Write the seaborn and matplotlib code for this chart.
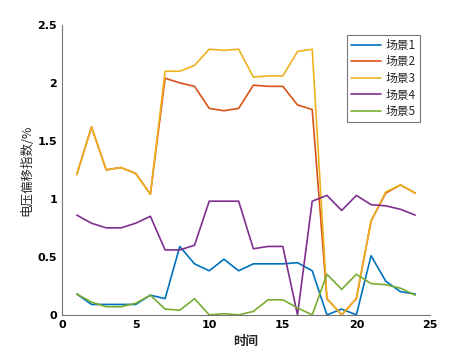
import matplotlib
matplotlib.use("Agg")
import matplotlib.pyplot as plt
import seaborn as sns
import pandas as pd

t = list(range(1, 25))
s1 = [0.18, 0.09, 0.09, 0.09, 0.09, 0.17, 0.14, 0.59, 0.44, 0.38, 0.48, 0.38,
      0.44, 0.44, 0.44, 0.45, 0.38, 0.0, 0.05, 0.0, 0.51, 0.29, 0.2, 0.18]
s2 = [1.21, 1.62, 1.25, 1.27, 1.22, 1.04, 2.04, 2.0, 1.97, 1.78, 1.76, 1.78,
      1.98, 1.97, 1.97, 1.81, 1.77, 0.14, 0.0, 0.14, 0.81, 1.05, 1.12, 1.05]
s3 = [1.21, 1.62, 1.25, 1.27, 1.22, 1.04, 2.1, 2.1, 2.15, 2.29, 2.28, 2.29,
      2.05, 2.06, 2.06, 2.27, 2.29, 0.14, 0.0, 0.14, 0.81, 1.06, 1.12, 1.05]
s4 = [0.86, 0.79, 0.75, 0.75, 0.79, 0.85, 0.56, 0.56, 0.6, 0.98, 0.98, 0.98,
      0.57, 0.59, 0.59, 0.0, 0.98, 1.03, 0.9, 1.03, 0.95, 0.94, 0.91, 0.86]
s5 = [0.18, 0.11, 0.07, 0.07, 0.1, 0.17, 0.05, 0.04, 0.14, 0.0, 0.01, 0.0,
      0.03, 0.13, 0.13, 0.06, 0.0, 0.35, 0.22, 0.35, 0.27, 0.26, 0.23, 0.17]
names = ["场景1", "场景2", "场景3", "场景4", "场景5"]
colors = ["#0072BD", "#D95319", "#EDB120", "#7E2F8E", "#77AC30"]

rows = []
for name, vals in zip(names, [s1, s2, s3, s4, s5]):
    for x, v in zip(t, vals):
        rows.append({"时间": x, "值": v, "场景": name})
df = pd.DataFrame(rows)

sns.set_style("white")
plt.rcParams["font.family"] = ["Noto Sans CJK SC", "DejaVu Sans"]

fig = plt.figure(figsize=(4.74, 3.55), dpi=100)
ax = fig.add_axes([0.131, 0.113, 0.776, 0.817])
sns.lineplot(data=df, x="时间", y="值", hue="场景", hue_order=names,
             palette=colors, linewidth=1.2, ax=ax)

ax.set_xlim(0, 25)
ax.set_ylim(0, 2.5)
ax.set_xticks([0, 5, 10, 15, 20, 25])
ax.set_yticks([0, 0.5, 1, 1.5, 2, 2.5])
ax.set_yticklabels(["0", "0.5", "1", "1.5", "2", "2.5"])
ax.tick_params(direction="in", length=3, color="#666666", labelsize=8,
               labelcolor="black", width=0.7)
for lab in ax.get_xticklabels() + ax.get_yticklabels():
    lab.set_fontweight("bold")
    lab.set_family(["DejaVu Sans"])
for side in ["top", "right"]:
    ax.spines[side].set_visible(False)
for side in ["left", "bottom"]:
    ax.spines[side].set_color("#777777")
    ax.spines[side].set_linewidth(0.8)
ax.set_xlabel("时间", fontsize=9, fontweight="bold")
ax.set_ylabel("电压偏移指数/%", fontsize=9, labelpad=3)

leg = ax.legend(loc="upper right", bbox_to_anchor=(0.973, 0.966), fontsize=8.5,
                frameon=True, fancybox=False, edgecolor="#555555",
                handlelength=2.5, borderpad=0.35, labelspacing=0.3,
                handletextpad=0.4, borderaxespad=0)
leg.get_frame().set_linewidth(0.8)

fig.savefig("out.png", dpi=100, facecolor="white")
